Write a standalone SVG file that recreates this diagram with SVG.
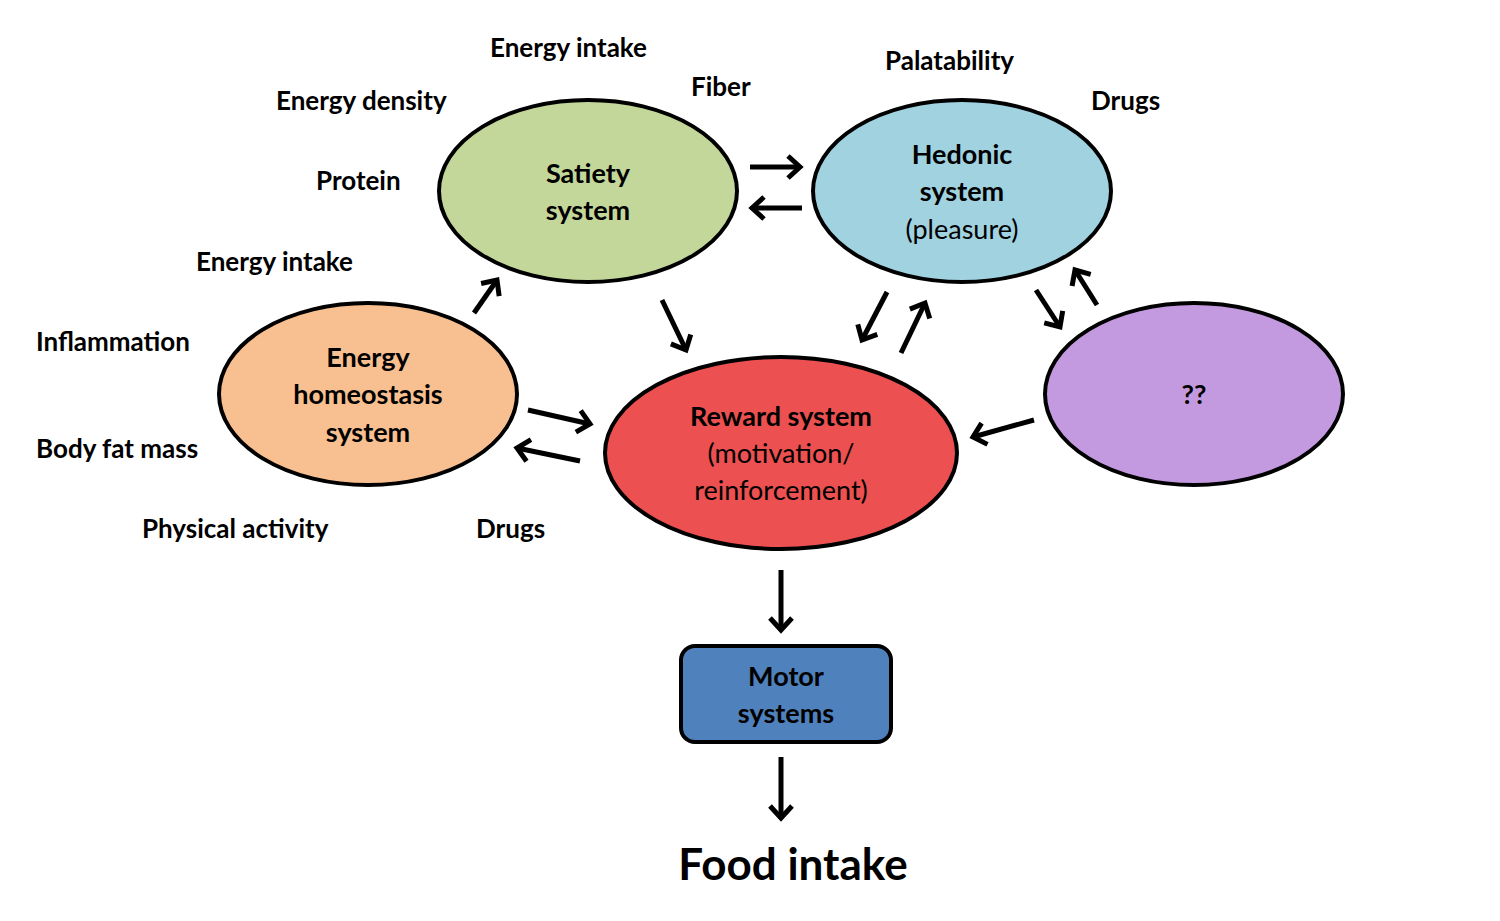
<svg xmlns="http://www.w3.org/2000/svg" width="1500" height="921" viewBox="0 0 1500 921">
<style>
text{font-family:Lato,"Liberation Sans",sans-serif;fill:#000}
.l{font-size:26px;font-weight:bold}
.n{font-size:27px;font-weight:bold;text-anchor:middle}
.r{font-size:27px;text-anchor:middle}
.e{stroke:#000;stroke-width:4}
.c line{stroke:#000;stroke-width:5;marker-end:url(#h)}
</style>
<defs><marker id="h" markerUnits="userSpaceOnUse" markerWidth="30" markerHeight="30" refX="18" refY="15" orient="auto"><path d="M6,4 L18,15 L6,26" fill="none" stroke="#000" stroke-width="5"/></marker></defs>
<rect width="1500" height="921" fill="#fff"/>
<g class="lbl">
<text class="l" x="490" y="57">Energy intake</text>
<text class="l" x="691" y="96">Fiber</text>
<text class="l" x="276" y="110">Energy density</text>
<text class="l" x="316" y="190">Protein</text>
<text class="l" x="196" y="271">Energy intake</text>
<text class="l" x="36" y="351">Inflammation</text>
<text class="l" x="36" y="458">Body fat mass</text>
<text class="l" x="142" y="538">Physical activity</text>
<text class="l" x="476" y="538">Drugs</text>
<text class="l" x="885" y="70">Palatability</text>
<text class="l" x="1091" y="110">Drugs</text>
</g>
<g id="satiety"><ellipse class="e" cx="588" cy="191" rx="149" ry="91" fill="#c4d79b"/><text class="n" x="588" y="183">Satiety</text><text class="n" x="588" y="220">system</text></g>
<g id="hedonic"><ellipse class="e" cx="962" cy="191" rx="149" ry="91" fill="#a0d2e0"/><text class="n" x="962" y="164">Hedonic</text><text class="n" x="962" y="201">system</text><text class="r" x="962" y="239">(pleasure)</text></g>
<g id="energy"><ellipse class="e" cx="368" cy="394" rx="149" ry="91" fill="#f8c090"/><text class="n" x="368" y="367">Energy</text><text class="n" x="368" y="404">homeostasis</text><text class="n" x="368" y="442">system</text></g>
<g id="reward"><ellipse class="e" cx="781" cy="453" rx="176" ry="96" fill="#ec5050"/><text class="n" x="781" y="426">Reward system</text><text class="r" x="781" y="463">(motivation/</text><text class="r" x="781" y="500">reinforcement)</text></g>
<g id="unknown"><ellipse class="e" cx="1194" cy="394" rx="149" ry="91" fill="#c39ae0"/><text class="n" x="1194" y="404">??</text></g>
<g id="motor"><rect class="e" x="681" y="646" width="210" height="96" rx="14" fill="#4f81bd"/><text class="n" x="786" y="686">Motor</text><text class="n" x="786" y="723">systems</text></g>
<g id="food"><text x="793" y="880" font-size="44" font-weight="bold" text-anchor="middle">Food intake</text></g>
<g class="c">
<line x1="750" y1="167" x2="800" y2="167"/>
<line x1="802" y1="208" x2="752" y2="208"/>
<line x1="474" y1="313" x2="497" y2="280"/>
<line x1="662" y1="300" x2="686" y2="350"/>
<line x1="887" y1="292" x2="862" y2="340"/>
<line x1="901" y1="353" x2="925" y2="303"/>
<line x1="1036" y1="290" x2="1060" y2="327"/>
<line x1="1097" y1="305" x2="1075" y2="270"/>
<line x1="1034" y1="420" x2="973" y2="437"/>
<line x1="528" y1="410" x2="590" y2="424"/>
<line x1="580" y1="461" x2="517" y2="448"/>
<line x1="781" y1="570" x2="781" y2="630"/>
<line x1="781" y1="757" x2="781" y2="818"/>
</g>
</svg>
